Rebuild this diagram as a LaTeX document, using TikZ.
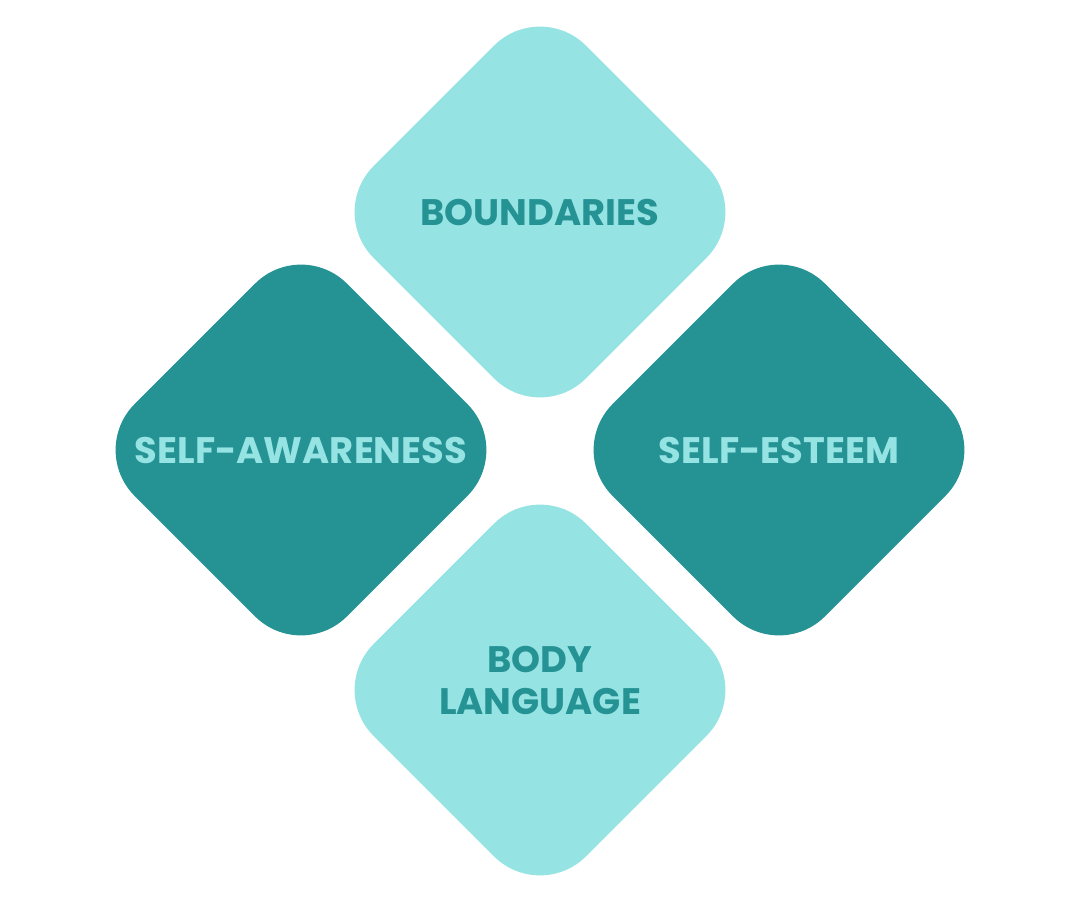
\documentclass[tikz,border=0pt]{standalone}
\usepackage{fontspec}
\setmainfont{Poppins}
\usetikzlibrary{shapes.geometric}
\definecolor{lightteal}{RGB}{150,227,227}
\definecolor{darkteal}{RGB}{37,146,148}

\begin{document}
\begin{tikzpicture}[x=0.02cm, y=-0.02cm,
  tile/.style={diamond, aspect=1, rounded corners=1.3cm, minimum width=8.5cm,
    minimum height=8.5cm, inner sep=0pt, align=center,
    font=\fontsize{21}{24}\selectfont\bfseries},
  lighttile/.style={tile, fill=lightteal, text=darkteal},
  darktile/.style={tile, fill=darkteal, text=lightteal}]
  % Canvas
  \useasboundingbox (0,0) rectangle (1080,903);

  % Tiles
  \node[lighttile] (boundaries) at (540,212) {BOUNDARIES};
  \node[darktile] (awareness) at (301,450) {SELF-AWARENESS};
  \node[darktile] (esteem) at (779,450) {SELF-ESTEEM};
  \node[lighttile] (body) at (540,690) {BODY\\LANGUAGE\\[-0.6em]};

\end{tikzpicture}
\end{document}
